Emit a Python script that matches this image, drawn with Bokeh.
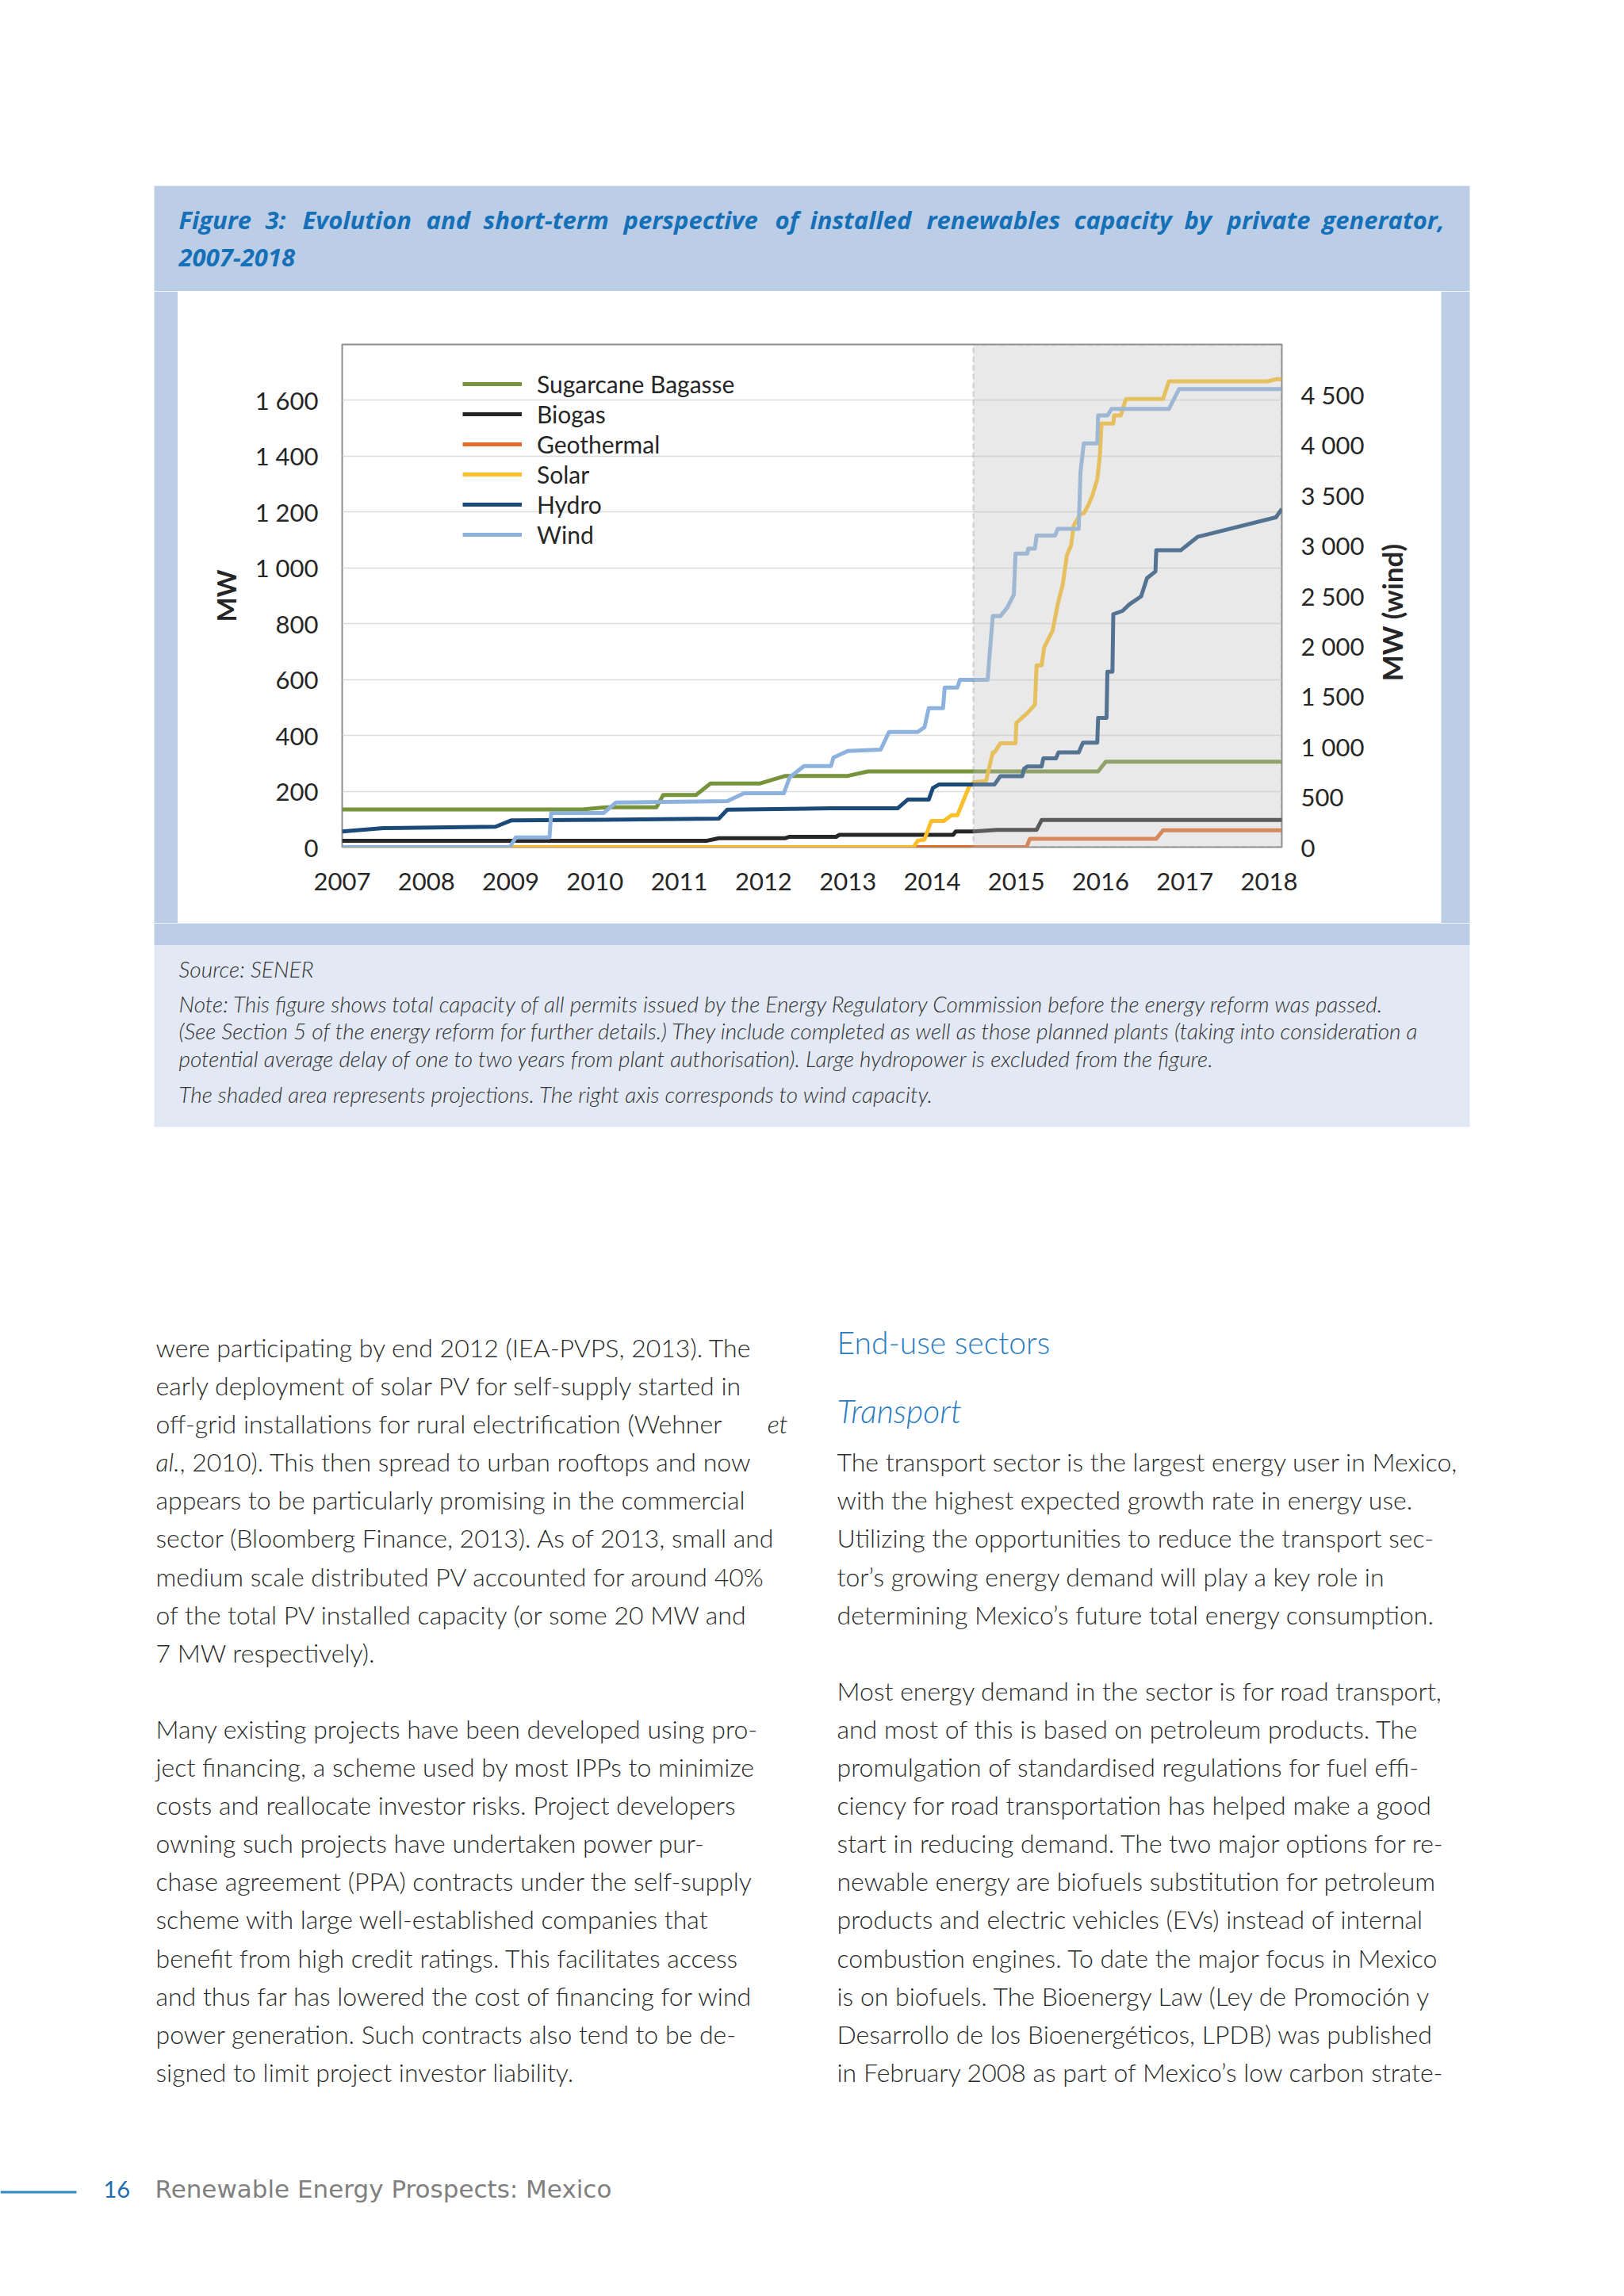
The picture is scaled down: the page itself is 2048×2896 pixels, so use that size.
import math
from bokeh.plotting import figure
from bokeh.layouts import column, row
from bokeh.models import Range1d, LinearAxis, FixedTicker, Label, BoxAnnotation, Legend, LegendItem
from bokeh.embed import file_html
from bokeh.resources import INLINE

# ---------------- data ----------------
years = [2007, 2008, 2009, 2010, 2011, 2012, 2013, 2014, 2015, 2016, 2017, 2018]
left_ticks = [0, 200, 400, 600, 800, 1000, 1200, 1400, 1600]
left_tick_labels = ["0", "200", "400", "600", "800", "1 000", "1 200", "1 400", "1 600"]
wind_ticks = [0, 500, 1000, 1500, 2000, 2500, 3000, 3500, 4000, 4500]
wind_tick_labels = ["0", "500", "1 000", "1 500", "2 000", "2 500", "3 000", "3 500", "4 000", "4 500"]
projection_start = 2014.49

bagasse_x = [2007.0, 2009.85, 2010.14, 2010.73, 2010.81, 2011.20, 2011.37, 2011.96, 2012.26, 2013.00, 2013.24, 2015.97, 2016.06, 2018.15]
bagasse_y = [135, 135, 143, 143, 187, 187, 228, 228, 255, 255, 271, 271, 306, 306]

biogas_x = [2007.0, 2011.33, 2011.47, 2012.26, 2012.31, 2012.86, 2012.90, 2014.25, 2014.28, 2014.49, 2014.77, 2015.24, 2015.30, 2018.15]
biogas_y = [23, 23, 32, 32, 37, 37, 44, 44, 56, 56, 62, 62, 97, 97]

geo_x = [2007.0, 2015.12, 2015.16, 2016.66, 2016.74, 2018.15]
geo_y = [0, 0, 30, 30, 60, 60]

solar_x = [2007.0, 2013.78, 2013.83, 2013.91, 2013.99, 2014.14, 2014.23, 2014.30, 2014.44, 2014.50,
           2014.64, 2014.72, 2014.74, 2014.81, 2014.83, 2014.99, 2015.00, 2015.13, 2015.22, 2015.24,
           2015.30, 2015.33, 2015.43, 2015.49, 2015.55, 2015.60, 2015.65, 2015.68, 2015.76, 2015.80,
           2015.85, 2015.90, 2015.96, 2015.99, 2016.01, 2016.15, 2016.16, 2016.24, 2016.30, 2016.74,
           2016.81, 2017.98, 2018.09, 2018.15]
solar_y = [0, 0, 23, 27, 94, 94, 114, 114, 217, 233,
           237, 339, 339, 372, 372, 372, 445, 480, 510, 651,
           651, 716, 775, 869, 940, 1046, 1081, 1152, 1193, 1195,
           1222, 1258, 1317, 1399, 1517, 1517, 1546, 1546, 1605, 1605,
           1668, 1668, 1676, 1676]

hydro_x = [2007.0, 2007.49, 2008.82, 2009.01, 2010.10, 2011.47, 2011.57, 2012.80, 2013.59, 2013.71,
           2013.96, 2014.01, 2014.08, 2014.74, 2014.81, 2015.07, 2015.09, 2015.13, 2015.30, 2015.32,
           2015.47, 2015.50, 2015.74, 2015.79, 2015.96, 2015.97, 2016.07, 2016.08, 2016.14, 2016.15,
           2016.26, 2016.34, 2016.48, 2016.55, 2016.65, 2016.66, 2016.95, 2017.15, 2018.08, 2018.15]
hydro_y = [56, 68, 73, 96, 98, 102, 134, 139, 139, 170,
           170, 212, 224, 224, 254, 254, 280, 289, 289, 318,
           318, 339, 339, 374, 374, 463, 463, 628, 628, 834,
           846, 869, 898, 963, 987, 1063, 1063, 1111, 1181, 1211]

wind_x = [2007.0, 2008.99, 2009.06, 2009.46, 2009.48, 2010.10, 2010.25, 2011.57, 2011.77, 2012.24,
          2012.31, 2012.48, 2012.80, 2012.83, 2013.00, 2013.39, 2013.49, 2013.83, 2013.91, 2013.96,
          2014.13, 2014.15, 2014.30, 2014.33, 2014.66, 2014.68, 2014.72, 2014.81, 2014.89, 2014.97,
          2014.99, 2015.13, 2015.14, 2015.22, 2015.24, 2015.46, 2015.49, 2015.74, 2015.76, 2015.80,
          2015.96, 2015.97, 2016.08, 2016.13, 2016.81, 2016.93, 2018.15]
wind_y = [0, 0, 97, 97, 339, 339, 444, 457, 536, 536,
          694, 807, 807, 891, 956, 970, 1146, 1146, 1193, 1382,
          1382, 1587, 1587, 1665, 1665, 1890, 2298, 2298, 2381, 2511,
          2920, 2920, 2969, 2969, 3100, 3100, 3166, 3166, 3722, 4016,
          4016, 4294, 4294, 4359, 4359, 4556, 4556]

series_names = ["Sugarcane Bagasse", "Biogas", "Geothermal", "Solar", "Hydro", "Wind"]
series_colors = ["#77933c", "#262626", "#e36c2a", "#fbbf2c", "#1b4a7a", "#8cb2dd"]

title_words = ["Figure", "3:", "Evolution", "and", "short-term", "perspective", "of",
               "installed", "renewables", "capacity", "by", "private", "generator,"]
title_line2 = "2007-2018"
source_text = "Source: SENER"
note_lines = ["Note: This figure shows total capacity of all permits issued by the Energy Regulatory Commission before the energy reform was passed.",
              "(See Section 5 of the energy reform for further details.) They include completed as well as those planned plants (taking into consideration a",
              "potential average delay of one to two years from plant authorisation). Large hydropower is excluded from the figure."]
shade_note = "The shaded area represents projections. The right axis corresponds to wind capacity."

left_para1 = ["were participating by end 2012 (IEA-PVPS, 2013). The",
              "early deployment of solar PV for self-supply started in",
              "off-grid installations for rural electrification (Wehner",
              None,
              "appears to be particularly promising in the commercial",
              "sector (Bloomberg Finance, 2013). As of 2013, small and",
              "medium scale distributed PV accounted for around 40%",
              "of the total PV installed capacity (or some 20 MW and",
              "7 MW respectively)."]
left_para2 = ["Many existing projects have been developed using pro-",
              "ject financing, a scheme used by most IPPs to minimize",
              "costs and reallocate investor risks. Project developers",
              "owning such projects have undertaken power pur-",
              "chase agreement (PPA) contracts under the self-supply",
              "scheme with large well-established companies that",
              "benefit from high credit ratings. This facilitates access",
              "and thus far has lowered the cost of financing for wind",
              "power generation. Such contracts also tend to be de-",
              "signed to limit project investor liability."]
right_para1 = ["The transport sector is the largest energy user in Mexico,",
               "with the highest expected growth rate in energy use.",
               "Utilizing the opportunities to reduce the transport sec-",
               "tor\u2019s growing energy demand will play a key role in",
               "determining Mexico\u2019s future total energy consumption."]
right_para2 = ["Most energy demand in the sector is for road transport,",
               "and most of this is based on petroleum products. The",
               "promulgation of standardised regulations for fuel effi-",
               "ciency for road transportation has helped make a good",
               "start in reducing demand. The two major options for re-",
               "newable energy are biofuels substitution for petroleum",
               "products and electric vehicles (EVs) instead of internal",
               "combustion engines. To date the major focus in Mexico",
               "is on biofuels. The Bioenergy Law (Ley de Promoci\u00f3n y",
               "Desarrollo de los Bioenerg\u00e9ticos, LPDB) was published",
               "in February 2008 as part of Mexico\u2019s low carbon strate-"]

# ---------------- layout constants (page pixels) ----------------
PW = 2040
FL, FR, FT, FB = 431, 1616, 434, 1068      # chart frame
WX0, WX1, WY0, WY1 = 224, 1817, 367, 1164  # white chart panel
CX1 = 1730                                 # right edge of chart figure
BOT = 2888
TITLE_X = [225, 334, 381, 537, 609, 786, 977, 1021, 1168, 1354, 1493, 1547, 1667]
CHART_FONT = "Lato"
BODY_FONT = "Lato Light, Lato"
TEXT_COL = "#2a2a2a"
BLUE = "#1570b8"
HEAD_BLUE = "#2a7cc0"
BOX_BLUE = "#bccde6"
BOX_LIGHT = "#e2e9f5"
BASE_FIX = 0.44   # alphabetic-baseline correction (fraction of font size)


def no_align(f):
    if "frame_align" in f.properties():
        f.frame_align = False


def canvas(x0, x1, y0, y1):
    f = figure(width=x1 - x0, height=y1 - y0, output_backend="svg", toolbar_location=None,
               x_range=Range1d(x0, x1), y_range=Range1d(y1, y0),
               x_axis_location=None, y_axis_location=None, min_border=0,
               outline_line_color=None, background_fill_color="white", border_fill_color="white")
    f.xgrid.visible = False
    f.ygrid.visible = False
    no_align(f)
    return f


def rect(f, X0, Y0, X1, Y1, color):
    f.quad(left=[X0], right=[X1], top=[Y0], bottom=[Y1], fill_color=color, line_color=None)


def txt(f, text, X, Y, size, color=TEXT_COL, font=BODY_FONT, style="normal",
        align="left", baseline="alphabetic", angle=0.0):
    if baseline == "alphabetic":
        Y = Y - BASE_FIX * size
    f.add_layout(Label(x=X, y=Y, text=text, text_font=font, text_font_size=f"{size}px",
                       text_font_style=style, text_color=color, text_align=align,
                       text_baseline=baseline, angle=angle))


# ---------------- head ----------------
head = canvas(0, PW, 0, WY0)
rect(head, 194, 234, 1853, WY0, BOX_BLUE)
for w, X in zip(title_words, TITLE_X):
    txt(head, w, X, 290, 31, color=BLUE, font="Open Sans", style="bold italic")
txt(head, title_line2, 225, 338, 31, color=BLUE, font="Open Sans", style="bold italic")

# ---------------- side strips ----------------
left_strip = canvas(0, WX0, WY0, WY1)
rect(left_strip, 194, WY0, WX0, WY1, BOX_BLUE)

right_strip = canvas(CX1, PW, WY0, WY1)
rect(right_strip, WX1, WY0, 1853, WY1, BOX_BLUE)
txt(right_strip, "MW (wind)", 1754, 772, 35, color="#262626", font=CHART_FONT, style="bold",
    align="center", baseline="middle", angle=math.pi / 2)

# ---------------- chart ----------------
p = figure(width=CX1 - WX0, height=WY1 - WY0, output_backend="svg", toolbar_location=None,
           x_range=Range1d(2007.0, 2018.15), y_range=Range1d(0, 1800),
           min_border_left=FL - WX0, min_border_right=CX1 - FR,
           min_border_top=FT - WY0, min_border_bottom=WY1 - FB,
           background_fill_color="white", border_fill_color="white",
           outline_line_color="#8c8c8c", outline_line_width=2)
no_align(p)
p.extra_y_ranges = {"wind": Range1d(0, 5000)}

xax = p.below[0]
xax.ticker = FixedTicker(ticks=years)
xax.major_label_overrides = {y: str(y) for y in years}
yax = p.left[0]
yticker = FixedTicker(ticks=left_ticks)
yax.ticker = yticker
p.ygrid.ticker = yticker
yax.major_label_overrides = dict(zip(left_ticks, left_tick_labels))
yax.axis_label = "MW"
yax.axis_label_text_font = CHART_FONT
yax.axis_label_text_font_style = "bold"
yax.axis_label_text_font_size = "33px"
yax.axis_label_text_color = "#262626"
yax.axis_label_standoff = 14

rax = LinearAxis(y_range_name="wind", ticker=FixedTicker(ticks=wind_ticks),
                 major_label_overrides=dict(zip(wind_ticks, wind_tick_labels)))
p.add_layout(rax, "right")

for ax, so in ((xax, 32), (yax, 30), (rax, 24)):
    ax.axis_line_color = None
    ax.major_tick_line_color = None
    ax.minor_tick_line_color = None
    ax.major_tick_out = 0
    ax.major_tick_in = 0
    ax.major_label_standoff = so
    ax.major_label_text_font = CHART_FONT
    ax.major_label_text_font_size = "31px"
    ax.major_label_text_color = "#262626"

p.xgrid.visible = False
p.ygrid.grid_line_color = "#dcdcdc"
p.ygrid.grid_line_width = 1.5

xs = [bagasse_x, biogas_x, geo_x, solar_x, hydro_x, wind_x]
ys = [bagasse_y, biogas_y, geo_y, solar_y, hydro_y, wind_y]
renderers = []
for name, color, x, y in zip(series_names, series_colors, xs, ys):
    kw = {"y_range_name": "wind"} if name == "Wind" else {}
    r = p.line(x, y, line_color=color, line_width=5, line_join="round", **kw)
    renderers.append(r)

p.add_layout(BoxAnnotation(left=projection_start, right=2018.15, bottom=0, top=1800,
                           fill_color="#bfbfbf", fill_alpha=0.35,
                           line_color="#8c8c8c", line_width=2.5, line_dash="7 4",
                           level="annotation"))

legend = Legend(items=[LegendItem(label=n, renderers=[r]) for n, r in zip(series_names, renderers)],
                location=(152, 376), orientation="vertical",
                glyph_width=75, glyph_height=36, label_height=36, spacing=2,
                label_standoff=19, padding=0, margin=0,
                border_line_color=None, background_fill_alpha=0.0,
                label_text_font=CHART_FONT, label_text_font_size="30px",
                label_text_color="#262626")
p.add_layout(legend)

# ---------------- bottom: caption + body text + footer ----------------
bottom = canvas(0, PW, WY1, BOT)
rect(bottom, 194, WY1, 1853, 1192, BOX_BLUE)
rect(bottom, 194, 1192, 1853, 1421, BOX_LIGHT)
rect(bottom, 0, 2763, 96, 2766, "#2b86c5")

CAP = 28
txt(bottom, source_text, 225, 1234, CAP, color="#333333", style="italic")
for i, line in enumerate(note_lines):
    txt(bottom, line, 225, 1278 + i * 34.3, CAP, color="#333333", style="italic")
txt(bottom, shade_note, 225, 1392, CAP, color="#333333", style="italic")

LX, RX, LX_END = 196, 1055, 993
B0, LH, BS = 1713, 48.1, 32
for i, line in enumerate(left_para1):
    Y = B0 + i * LH
    if line is None:
        txt(bottom, "al.", LX, Y, BS, style="italic")
        txt(bottom, ", 2010). This then spread to urban rooftops and now", LX + 30, Y, BS)
    else:
        txt(bottom, line, LX, Y, BS)
txt(bottom, "et", LX_END, B0 + 2 * LH, BS, style="italic", align="right")
for i, line in enumerate(left_para2):
    txt(bottom, line, LX, B0 + (10 + i) * LH, BS)

txt(bottom, "End-use sectors", RX, 1710, 39, color=HEAD_BLUE)
txt(bottom, "Transport", RX, 1797, 41, color=HEAD_BLUE, style="italic")
for i, line in enumerate(right_para1):
    txt(bottom, line, RX, B0 + (3 + i) * LH, BS)
for i, line in enumerate(right_para2):
    txt(bottom, line, RX, B0 + (9 + i) * LH, BS)

txt(bottom, "16", 130, 2774, 29, color="#1a6db3", font="Lato")
txt(bottom, "Renewable Energy Prospects: Mexico", 195, 2774, 31, color="#808080",
    font="DejaVu Sans ExtraLight, DejaVu Sans")

page = column(head, row(left_strip, p, right_strip, spacing=0), bottom, spacing=0)
open("out.html", "w").write(file_html(page, INLINE))
